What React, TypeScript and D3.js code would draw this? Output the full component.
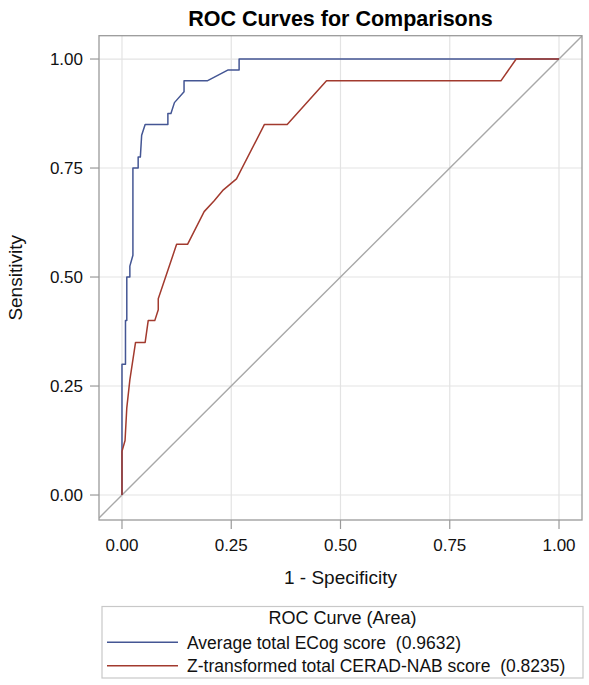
import React from "react";
import * as d3 from "d3";

const title = "ROC Curves for Comparisons";
const xLabel = "1 - Specificity";
const yLabel = "Sensitivity";
const ticks = [0, 0.25, 0.5, 0.75, 1];
const legendTitle = "ROC Curve (Area)";
const seriesNames = [
  "Average total ECog score  (0.9632)",
  "Z-transformed total CERAD-NAB score  (0.8235)",
];
const seriesColors = ["#445694", "#A23A2E"];

// Average total ECog score: [1 - specificity, sensitivity]
const ecogFpr = [0, 0, 0.008, 0.008, 0.011, 0.011, 0.018, 0.018, 0.025, 0.025, 0.037, 0.037, 0.042, 0.045, 0.053, 0.105, 0.105, 0.112, 0.12, 0.142, 0.142, 0.195, 0.243, 0.268, 0.268, 1];
const ecogTpr = [0, 0.3, 0.3, 0.4, 0.4, 0.5, 0.5, 0.525, 0.55, 0.75, 0.75, 0.775, 0.775, 0.825, 0.85, 0.85, 0.875, 0.875, 0.9, 0.925, 0.95, 0.95, 0.975, 0.975, 1, 1];

// Z-transformed total CERAD-NAB score
const ceradFpr = [0, 0, 0.007, 0.011, 0.018, 0.031, 0.053, 0.06, 0.075, 0.083, 0.083, 0.125, 0.15, 0.188, 0.211, 0.232, 0.262, 0.326, 0.378, 0.468, 0.867, 0.902, 1];
const ceradTpr = [0, 0.1, 0.125, 0.2, 0.264, 0.35, 0.35, 0.4, 0.4, 0.425, 0.45, 0.575, 0.575, 0.65, 0.675, 0.7, 0.725, 0.85, 0.85, 0.95, 0.95, 1, 1];

const W = 589;
const H = 685;
const FONT = "'Liberation Sans', Arial, sans-serif";

export default function App() {
  const x = d3.scaleLinear().domain([-0.0526, 1.0526]).range([99, 582]);
  const y = d3.scaleLinear().domain([-0.0573, 1.0535]).range([520, 35.7]);
  const [x0, x1] = x.range();
  const [y0, y1] = y.range();

  const line = d3
    .line<[number, number]>()
    .x((d) => x(d[0]))
    .y((d) => y(d[1]));

  const series = [
    ecogFpr.map((v, i) => [v, ecogTpr[i]] as [number, number]),
    ceradFpr.map((v, i) => [v, ceradTpr[i]] as [number, number]),
  ];
  const dom = x.domain();
  const diag: [number, number][] = [
    [dom[0], dom[0]],
    [dom[1], dom[1]],
  ];

  const legX0 = 102;
  const legX1 = 583;
  const legY0 = 606.5;
  const legY1 = 678;

  return (
    <svg
      width={W}
      height={H}
      style={{ position: "absolute", left: 0, top: 0, background: "#fff" }}
      fontFamily={FONT}
    >
      <defs>
        <clipPath id="plotclip">
          <rect x={x0} y={y1} width={x1 - x0} height={y0 - y1} />
        </clipPath>
      </defs>
      <rect x={0} y={0} width={W} height={H} fill="#fff" />
      <text x={(x0 + x1) / 2} y={26} textAnchor="middle" fontSize={21.5} fontWeight="bold" fill="#000">
        {title}
      </text>

      {/* grid */}
      {ticks.map((t) => (
        <g key={"g" + t}>
          <line x1={x(t)} x2={x(t)} y1={y1} y2={y0} stroke="#e3e3e3" strokeWidth={1.2} />
          <line x1={x0} x2={x1} y1={y(t)} y2={y(t)} stroke="#e3e3e3" strokeWidth={1.2} />
        </g>
      ))}

      <g clipPath="url(#plotclip)">
        <path d={line(diag) || ""} fill="none" stroke="#a8a8a8" strokeWidth={1.4} />
        {series.map((s, i) => (
          <path key={i} d={line(s) || ""} fill="none" stroke={seriesColors[i]} strokeWidth={1.5} strokeLinejoin="round" />
        ))}
      </g>

      {/* frame */}
      <rect x={x0} y={y1} width={x1 - x0} height={y0 - y1} fill="none" stroke="#9a9a9a" strokeWidth={1.3} />

      {/* y axis */}
      {ticks.map((t) => (
        <g key={"y" + t}>
          <line x1={x0 - 9} x2={x0} y1={y(t)} y2={y(t)} stroke="#9a9a9a" strokeWidth={1.2} />
          <text x={x0 - 16} y={y(t)} dy="0.36em" textAnchor="end" fontSize={17} fill="#111">
            {d3.format(".2f")(t)}
          </text>
        </g>
      ))}
      {/* x axis */}
      {ticks.map((t) => (
        <g key={"x" + t}>
          <line x1={x(t)} x2={x(t)} y1={y0} y2={y0 + 9} stroke="#9a9a9a" strokeWidth={1.2} />
          <text x={x(t)} y={551} textAnchor="middle" fontSize={17} fill="#111">
            {d3.format(".2f")(t)}
          </text>
        </g>
      ))}
      <text x={(x0 + x1) / 2} y={584} textAnchor="middle" fontSize={19} fill="#111">
        {xLabel}
      </text>
      <text
        transform={`translate(22,${(y0 + y1) / 2}) rotate(-90)`}
        textAnchor="middle"
        fontSize={19}
        fill="#111"
      >
        {yLabel}
      </text>

      {/* legend */}
      <rect x={legX0} y={legY0} width={legX1 - legX0} height={legY1 - legY0} fill="#fff" stroke="#c8c8c8" strokeWidth={1.2} />
      <text x={(legX0 + legX1) / 2} y={624} textAnchor="middle" fontSize={18} fill="#111">
        {legendTitle}
      </text>
      {seriesNames.map((n, i) => (
        <g key={"l" + i}>
          <line x1={107} x2={178} y1={642.3 + i * 23.4} y2={642.3 + i * 23.4} stroke={seriesColors[i]} strokeWidth={1.5} />
          <text x={187} y={648.5 + i * 23.4} fontSize={17.5} fill="#111" style={{ whiteSpace: "pre" }}>
            {n}
          </text>
        </g>
      ))}
    </svg>
  );
}
